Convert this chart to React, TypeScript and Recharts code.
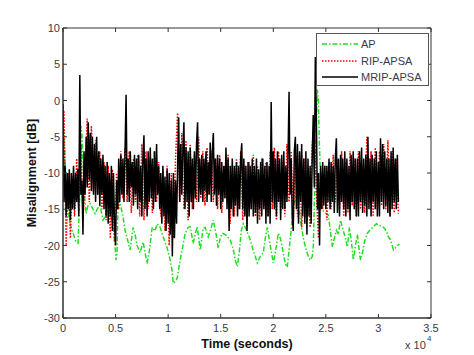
import { Line, LineChart, ReferenceArea, XAxis, YAxis } from "recharts";

// MRIP-APSA is sampled every 100 s, RIP-APSA every 200 s (offset 100 s)
const mripStep = 100;
const ripStep = 200;
const ripOffset = 100;

const mripValues = [
  -0.5, -14, -9, -16, -10, -15, -9.5, -16.5, -10, -15,
  -9, -15, -10, -14, -9.5, -16, 3.5, -13, -11, -18.5,
  -7, -13, -5, -12, -3, -11, -4.5, -12.5, -5, -13,
  -6, -14, -5, -13, -7, -14.5, -8, -13, -7.5, -15,
  -9, -16, -8.5, -17, -10, -16, -9, -18, -10, -17,
  -20, -11, -15, -8, -14, -7.5, -13, -8, -14, -7,
  0.8, -13, -8, -14, -7, -12, -8.5, -14.5, -7.5, -13,
  -8, -15, -7.5, -14, -9, -16, -8, -4.8, -15, -8,
  -16, -7, -14, -6.5, -13.5, -8, -15, -7, -14, -6,
  -13, -9, -15, -10, -17, -9, -16, -10.5, -18, -9.5,
  -17, -10, -18.5, -11, -21.5, -10, -19, -11, -17, -9,
  -2.3, -14, -6, -13, -7, -3, -15, -6.5, -14, -7,
  -16, -6.5, -14, -8, -15, -7, -13.5, -6, -3, -14,
  -8, -13, -7.5, -14, -8, -12.5, -7, -14, -8.5, -13,
  -5.8, -14, -7, -4.5, -13, -8, -14.5, -7.5, -13, -8,
  -15, -8.5, -14, -9, -13.5, -6.5, -15, -8, -18, -9,
  -15, -8, -16, -9, -14.5, -8.5, -16, -9, -15, -8,
  -5.9, -15, -8, -16, -9, -18, -8.5, -16, -9, -15,
  -8, -16, -9, -15.5, -8, -17, -9.5, -15, -8.5, -16,
  -8, -15, -9, -17, -8.5, -16, -9, -17, -0.2, -14,
  -7, -15, -8, -16, -7, -14, -8, -16.5, -7.5, -15,
  -7, -15, -9, -14, -8, 1.2, -13, -8, -16, -18,
  -7, -5, -15, -6, -17, -7, -14, -6, -16, -8,
  -17, -7, -18.5, -8, -16, -9, -17, -8, -2, -12,
  6, -3, -15, -10, -20, -9, -15, -8.5, -14.5, -9,
  -15, -9, -14, -8, -15, -8.5, -14, -9, -15.5, -8,
  -5.2, -15.5, -8, -16, -7.5, -14, -8, -15, -7, -16,
  -8, -15, -9, -16.5, -7.5, -14, -7, -15, -8, -16,
  -8, -16, -7, -14, -6.5, -15.5, -8, -14.5, -7.5, -16,
  -5, -15, -8, -16, -7.5, -14, -8, -15, -7, -16,
  -8.5, -16, -5.2, -14, -6, -15, -7, -14.5, -8, -15.5,
  -8, -16, -7, -15, -6.5, -14, -8, -15, -7.5, -14,
];

const ripValues = [
  -1.5, -20, -10, -19, -10.5, -16, -8, -15, -6, -16,
  -12, -2.5, -14, -3.5, -12.5, -5.5, -13, -7, -15, -8.5,
  -16.5, -9, -19, -9.5, -19.5, -10, -15, -7, -13.5, -6.5,
  -14, -7, -15.5, -8, -14, -7.5, -16, -6, -16.5, -7,
  -15, -8, -15.5, -7, -14, -8.5, -16, -9.5, -18, -9,
  -20, -10, -19, -8, -1.7, -14, -4.5, -15, -5.5, -16.5,
  -6, -15, -7.5, -14, -5, -13.5, -7, -14.5, -6.5, -13,
  -7, -14, -8, -15, -7.5, -15.5, -9, -13.5, -7.5, -17,
  -9, -16, -8, -15, -7, -16.5, -9, -17.5, -8.5, -15,
  -7.5, -16, -9, -16.5, -8, -14.5, -8.5, -16, -7, -15,
  -6.5, -16.5, -7, -15.5, -8.5, -16, -6, -14, -7, -17,
  -6.5, -16, -7.5, -17.5, -8, -16, -9, -17.5, -6, -4,
  -13, -19, -10, -15, -9, -16.5, -8.5, -15, -7.5, -14,
  -8, -15, -7, -16, -8.5, -15.5, -7, -14.5, -8, -16,
  -7, -15, -9, -15.5, -5, -14, -7, -16, -6.5, -15,
  -7, -14.5, -6, -15, -5.5, -16, -7, -15.5, -8, -15.6,
];

const apTime = [
  0, 190, 380, 670, 950, 1240, 1430, 1620, 1710, 1810,
  2000, 2190, 2380, 2570, 2860, 3050, 3330, 3520, 3810, 4000,
  4290, 4480, 4760, 4950, 5050, 5140, 5240, 5430, 5710, 5900,
  6190, 6380, 6670, 6860, 7050, 7330, 7620, 7810, 8000, 8190,
  8480, 8760, 8950, 9240, 9520, 9900, 10190, 10380, 10480, 10670,
  10860, 11140, 11330, 11620, 11900, 12100, 12380, 12570, 12760, 13050,
  13330, 13520, 13810, 14100, 14290, 14570, 14760, 14950, 15140, 15430,
  15620, 15900, 16190, 16380, 16570, 16760, 16950, 17140, 17430, 17810,
  18100, 18290, 18480, 18760, 19050, 19240, 19430, 19710, 20000, 20190,
  20480, 20670, 20950, 21140, 21330, 21620, 21900, 22100, 22290, 22570,
  22860, 23050, 23330, 23520, 23710, 23810, 24000, 24100, 24190, 24290,
  24380, 24480, 24670, 24950, 25240, 25430, 25620, 25810, 26000, 26190,
  26380, 26670, 26860, 27050, 27240, 27430, 27620, 27810, 28000, 28290,
  28480, 28670, 28950, 29240, 29520, 29810, 30000, 30290, 30480, 30760,
  30950, 31140, 31430, 31620, 31810, 32000,
];

const apValues = [
  -2.5, -8, -14, -17, -18.3, -19.5, -19.7, -12, -3.5, -5,
  -12, -15.6, -14.5, -14.2, -15, -15.6, -14.8, -14.5, -16.5, -16,
  -15.3, -15, -17.5, -20, -22, -21, -13.5, -14.2, -16, -17.9,
  -19.5, -20.6, -17.5, -18.5, -20, -21, -19.5, -21, -22.5, -21,
  -17.5, -18, -17, -17.5, -18.8, -20.3, -22, -23.5, -25.2, -25,
  -24.5, -22, -20.6, -18.3, -17.5, -17.4, -19.7, -18.5, -17.4, -20.6,
  -17.6, -17.5, -18.8, -17.5, -16.5, -18.5, -20.4, -19, -18.3, -18.5,
  -18.8, -19.2, -20.5, -22, -22.9, -21, -18, -17, -17.8, -19.2,
  -20.7, -21.5, -22.4, -21.5, -21, -19, -17.5, -20, -22.4, -21,
  -18.3, -19, -21, -22.5, -23, -19, -14.7, -13.5, -11.9, -16.5,
  -19, -20.2, -21.5, -22, -21.5, -20, -8, -2.7, 1.5, 0,
  -5.9, -10, -15.1, -15.5, -15.8, -18, -20.2, -19, -17.9, -18.5,
  -16.5, -18, -19, -20.2, -17.5, -19.5, -22, -20, -18.5, -22,
  -21, -19.5, -18.3, -17.8, -17.4, -17, -17.2, -17.3, -17.5, -18,
  -18.8, -19.2, -20.6, -20.3, -20, -19.8,
];

const xTicks = [0, 5000, 10000, 15000, 20000, 25000, 30000, 35000];
const yTicks = [-30, -25, -20, -15, -10, -5, 0, 5, 10];

const mripData = mripValues.map((v, i) => ({ t: i * mripStep, v }));
const ripData = ripValues.map((v, i) => ({ t: ripOffset + i * ripStep, v }));
const apData = apTime.map((t, i) => ({ t, v: apValues[i] }));

const W = 466;
const H = 347;
const LEFT = 55;
const TOP = 20;
const RIGHT = 423;
const BOTTOM = 310;
const AXIS = "#333333";
const LABEL = "#3a3a48";
const FONT = "'Liberation Sans', Arial, sans-serif";

const fmtX = (v: number) => String(v / 10000);

const BottomTick = (props: any) => {
  const { x, payload } = props;
  return (
    <g>
      <line x1={x} x2={x} y1={BOTTOM} y2={BOTTOM - 4} stroke={AXIS} />
      <line x1={x} x2={x} y1={TOP} y2={TOP + 4} stroke={AXIS} />
      <text x={x} y={BOTTOM + 14} textAnchor="middle" fontSize={11} fill={LABEL} fontFamily={FONT}>
        {fmtX(payload.value)}
      </text>
    </g>
  );
};

const LeftTick = (props: any) => {
  const { y, payload } = props;
  return (
    <g>
      <line x1={LEFT} x2={LEFT + 4} y1={y} y2={y} stroke={AXIS} />
      <line x1={RIGHT} x2={RIGHT - 4} y1={y} y2={y} stroke={AXIS} />
      <text x={LEFT - 3} y={y + 4} textAnchor="end" fontSize={11} fill={LABEL} fontFamily={FONT}>
        {payload.value}
      </text>
    </g>
  );
};

const legendItems = [
  { name: "AP", color: "#22dd22", dash: "5 2 1.5 2" },
  { name: "RIP-APSA", color: "#ff0000", dash: "1.5 1.5" },
  { name: "MRIP-APSA", color: "#000000", dash: undefined },
];

export default function App() {
  return (
    <div style={{ position: "relative", width: W, height: H, fontFamily: FONT, background: "#fff" }}>
      <LineChart width={W} height={H} margin={{ top: TOP, right: W - RIGHT, bottom: 0, left: 0 }}>
        <XAxis
          dataKey="t"
          type="number"
          domain={[0, 35000]}
          ticks={xTicks}
          height={H - BOTTOM}
          tickSize={0}
          tickLine={false}
          stroke={AXIS}
          tick={<BottomTick />}
          allowDataOverflow
        />
        <YAxis
          type="number"
          domain={[-30, 10]}
          ticks={yTicks}
          width={LEFT}
          tickSize={0}
          tickLine={false}
          stroke={AXIS}
          tick={<LeftTick />}
          allowDataOverflow
        />
        <ReferenceArea x1={0} x2={35000} y1={-30} y2={10} fill="none" stroke={AXIS} strokeWidth={1} ifOverflow="visible" />
        <Line
          data={apData}
          dataKey="v"
          stroke="#22dd22"
          strokeWidth={1.5}
          strokeDasharray="5 2 1.5 2"
          dot={false}
          isAnimationActive={false}
        />
        <Line
          data={ripData}
          dataKey="v"
          stroke="#ff0000"
          strokeWidth={1.5}
          strokeDasharray="1.5 1.5"
          dot={false}
          isAnimationActive={false}
        />
        <Line
          data={mripData}
          dataKey="v"
          stroke="#000000"
          strokeWidth={1.5}
          dot={false}
          isAnimationActive={false}
        />
      </LineChart>

      {/* axis titles */}
      <svg width={W} height={H} style={{ position: "absolute", left: 0, top: 0, pointerEvents: "none" }}>
        <text x={(LEFT + RIGHT) / 2} y={340} textAnchor="middle" fontSize={12.5} fontWeight="bold" fill="#111" fontFamily={FONT}>
          Time (seconds)
        </text>
        <text x={397} y={341} fontSize={11} fill={LABEL} fontFamily={FONT}>
          x 10
        </text>
        <text x={419} y={333} fontSize={8} fill={LABEL} fontFamily={FONT}>
          4
        </text>
        <text
          x={28}
          y={(TOP + BOTTOM) / 2}
          textAnchor="middle"
          fontSize={12.5}
          fontWeight="bold"
          fill="#111"
          fontFamily={FONT}
          transform={`rotate(-90 28 ${(TOP + BOTTOM) / 2})`}
        >
          Misalignment [dB]
        </text>
      </svg>

      {/* legend box */}
      <div
        style={{
          position: "absolute",
          left: 308,
          top: 25,
          width: 113,
          height: 53,
          boxSizing: "border-box",
          border: "1px solid #555",
          background: "#fff",
        }}
      >
        {legendItems.map((item, i) => (
          <div key={item.name} style={{ position: "absolute", left: 0, top: 2 + i * 16.5, height: 16, width: 111, display: "flex", alignItems: "center" }}>
            <svg width={44} height={16}>
              <line x1={5} x2={41} y1={8} y2={8} stroke={item.color} strokeWidth={1.5} strokeDasharray={item.dash} />
            </svg>
            <span style={{ fontSize: 11, color: LABEL, lineHeight: "16px" }}>{item.name}</span>
          </div>
        ))}
      </div>
    </div>
  );
}
